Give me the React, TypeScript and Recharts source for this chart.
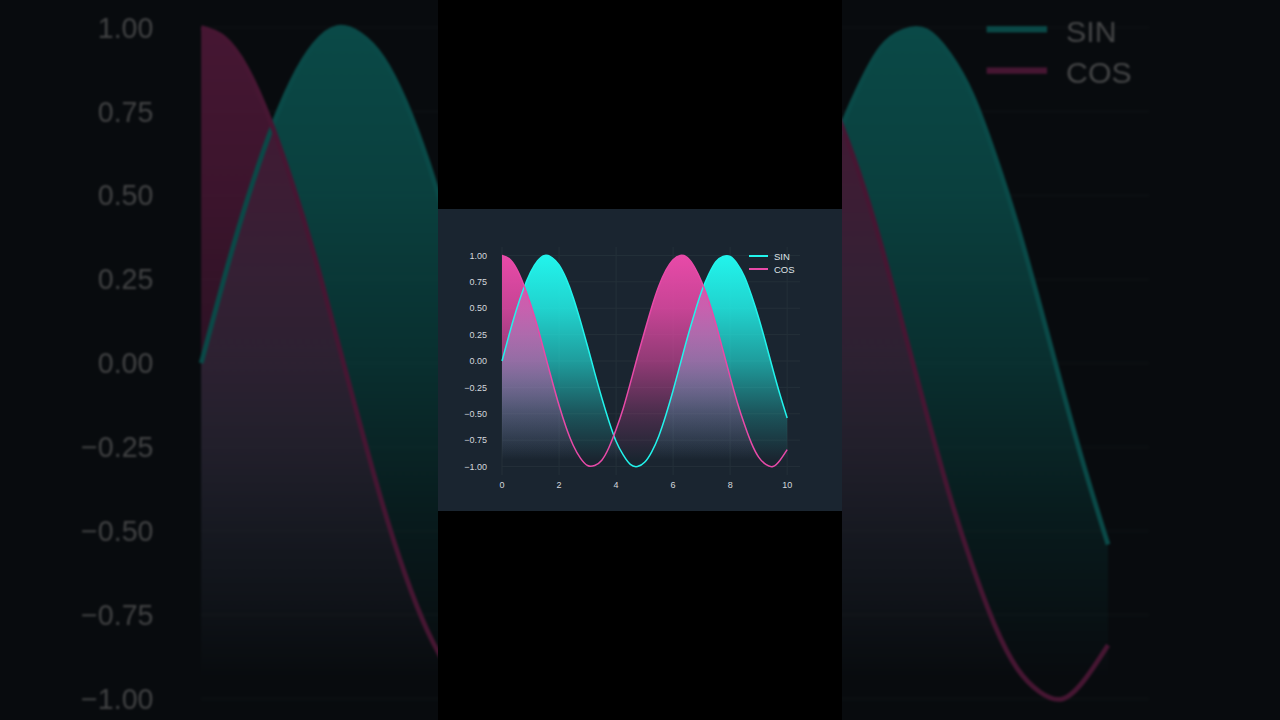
import { ComposedChart, Area, Line, XAxis, YAxis, CartesianGrid } from 'recharts';

// values, x step 0.25
const xValues = [
  0, 0.25, 0.5, 0.75, 1, 1.25, 1.5, 1.75, 2, 2.25, 2.5, 2.75, 3, 3.25, 3.5, 3.75, 4, 4.25, 4.5, 4.75,
  5, 5.25, 5.5, 5.75, 6, 6.25, 6.5, 6.75, 7, 7.25, 7.5, 7.75, 8, 8.25, 8.5, 8.75, 9, 9.25, 9.5, 9.75, 10,
];
const sinValues = [
  0.0, 0.25, 0.48, 0.68, 0.84, 0.95, 1.0, 0.98, 0.91, 0.78, 0.6, 0.38, 0.14, -0.11, -0.35, -0.57, -0.76,
  -0.89, -0.98, -1.0, -0.96, -0.86, -0.71, -0.51, -0.28, -0.03, 0.22, 0.45, 0.66, 0.82, 0.94, 0.99, 0.99,
  0.92, 0.8, 0.62, 0.41, 0.17, -0.08, -0.32, -0.54,
];
const cosValues = [
  1.0, 0.97, 0.88, 0.73, 0.54, 0.32, 0.07, -0.18, -0.42, -0.63, -0.8, -0.92, -0.99, -0.99, -0.94, -0.82,
  -0.65, -0.45, -0.21, 0.04, 0.28, 0.51, 0.71, 0.86, 0.96, 1.0, 0.98, 0.89, 0.75, 0.57, 0.35, 0.1, -0.15,
  -0.39, -0.6, -0.78, -0.91, -0.98, -1.0, -0.94, -0.84,
];
const xTicks = [0, 2, 4, 6, 8, 10];
const yTicks = [-1, -0.75, -0.5, -0.25, 0, 0.25, 0.5, 0.75, 1];
const seriesNames = ['SIN', 'COS'];

const chartData = xValues.map((x, i) => ({ x, sin: sinValues[i], cos: cosValues[i] }));

const SIN_COLOR = '#22f4ec';
const COS_COLOR = '#e84aa8';
const seriesColors = [SIN_COLOR, COS_COLOR];
const PANEL_BG = '#1a2530';
const FONT = '"Liberation Sans", Arial, sans-serif';

const fmtY = (v: number) => v.toFixed(2).replace('-', '\u2212');

function Fade({ id, color }: { id: string; color: string }) {
  return (
    <linearGradient id={id} x1="0" y1="0" x2="0" y2="1">
      <stop offset="0%" stopColor={color} stopOpacity={1} />
      <stop offset="24%" stopColor={color} stopOpacity={0.84} />
      <stop offset="48%" stopColor={color} stopOpacity={0.58} />
      <stop offset="72%" stopColor={color} stopOpacity={0.23} />
      <stop offset="93%" stopColor={color} stopOpacity={0} />
    </linearGradient>
  );
}

function Panel({ id, xLabels = true }: { id: string; xLabels?: boolean }) {
  return (
    <div style={{ width: 404, height: 302, background: PANEL_BG, position: 'relative' }}>
      <ComposedChart
        width={404}
        height={302}
        data={chartData}
        margin={{ top: 38, right: 42, left: 0, bottom: 0 }}
      >
        <defs>
          <Fade id={`${id}-sin`} color={SIN_COLOR} />
          <Fade id={`${id}-cos`} color={COS_COLOR} />
        </defs>
        <CartesianGrid
          stroke="#243039"
          strokeWidth={1}
          horizontalValues={yTicks}
          verticalValues={xTicks}
        />
        <XAxis
          dataKey="x"
          type="number"
          domain={[0, 10.45]}
          ticks={xTicks}
          axisLine={false}
          tickLine={false}
          tickSize={0}
          tickMargin={7}
          height={36}
          tick={xLabels ? { fill: '#d4d8dc', fontSize: 9, fontFamily: FONT } : false}
        />
        <YAxis
          type="number"
          domain={[-1.08, 1.08]}
          ticks={yTicks}
          axisLine={false}
          tickLine={false}
          tickSize={0}
          tickMargin={15}
          width={64}
          tickFormatter={fmtY}
          tick={{ fill: '#d4d8dc', fontSize: 9, fontFamily: FONT }}
        />
        <Area
          type="natural"
          dataKey="sin"
          baseValue={-1.08}
          stroke="none"
          fill={`url(#${id}-sin)`}
          fillOpacity={1}
          isAnimationActive={false}
        />
        <Area
          type="natural"
          dataKey="cos"
          baseValue={-1.08}
          stroke="none"
          fill={`url(#${id}-cos)`}
          fillOpacity={1}
          isAnimationActive={false}
        />
        <Line
          type="natural"
          dataKey="sin"
          stroke={SIN_COLOR}
          strokeWidth={1.5}
          dot={false}
          activeDot={false}
          isAnimationActive={false}
        />
        <Line
          type="natural"
          dataKey="cos"
          stroke={COS_COLOR}
          strokeWidth={1.5}
          dot={false}
          activeDot={false}
          isAnimationActive={false}
        />
      </ComposedChart>
      {/* legend, top right of the plot */}
      <div
        style={{
          position: 'absolute',
          top: 40.5,
          left: 311,
          fontFamily: FONT,
          fontSize: 9.5,
          color: '#dfe3e7',
          lineHeight: '13px',
        }}
      >
        {seriesNames.map((name, i) => (
          <div key={name} style={{ display: 'flex', alignItems: 'center', height: 13 }}>
            <span style={{ display: 'inline-block', width: 19, height: 2, background: seriesColors[i], marginRight: 6 }} />
            <span>{name}</span>
          </div>
        ))}
      </div>
    </div>
  );
}

export default function App() {
  return (
    <div
      style={{
        position: 'absolute',
        left: 0,
        top: 0,
        width: 1280,
        height: 720,
        background: '#000',
        overflow: 'hidden',
      }}
    >
      {/* blown-up, dimmed copy behind */}
      <div
        style={{
          position: 'absolute',
          left: 438,
          top: 209,
          width: 404,
          height: 302,
          transform: 'scale(3.18)',
          transformOrigin: '202px 151px',
          filter: 'brightness(0.3) blur(0.35px)',
        }}
      >
        <Panel id="bg" xLabels={false} />
      </div>
      <div style={{ position: 'absolute', left: 438, top: 0, width: 404, height: 720, background: '#000' }} />
      <div style={{ position: 'absolute', left: 438, top: 209, width: 404, height: 302 }}>
        <Panel id="fg" />
      </div>
    </div>
  );
}
